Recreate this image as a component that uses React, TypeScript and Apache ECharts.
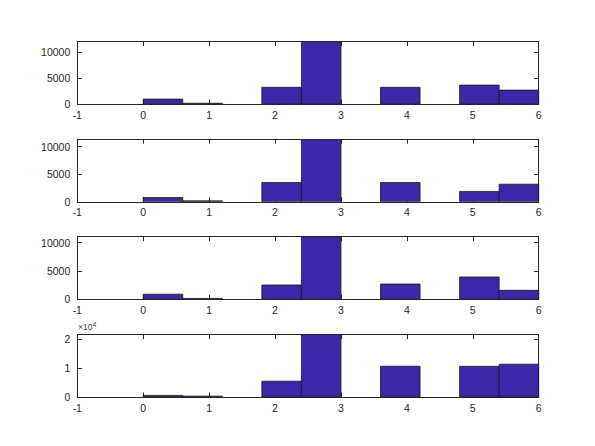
import React, { useEffect, useRef } from "react";
import * as echarts from "echarts";

// Histogram bin edges (shared by all four panels)
const binEdges = [0, 0.6, 1.2, 1.8, 2.4, 3.0, 3.6, 4.2, 4.8, 5.4, 6.0];

// Bin counts per panel
const counts1 = [970, 160, 0, 3250, 12150, 0, 3250, 0, 3680, 2710];
const counts2 = [760, 170, 0, 3490, 11350, 0, 3490, 0, 1880, 3190];
const counts3 = [900, 160, 0, 2530, 11080, 0, 2700, 0, 3940, 1590];
const counts4 = [580, 330, 0, 5520, 21720, 0, 10700, 0, 10660, 11400];

// Tick values
const xTicks = [-1, 0, 1, 2, 3, 4, 5, 6];
const yTicksA = [0, 5000, 10000];
const yTicksB = [0, 10000, 20000];

const panels = [
  { counts: counts1, yTicks: yTicksA, scale: 1 },
  { counts: counts2, yTicks: yTicksA, scale: 1 },
  { counts: counts3, yTicks: yTicksA, scale: 1 },
  { counts: counts4, yTicks: yTicksB, scale: 10000 },
];

const W = 595;
const H = 446;
const GRID_LEFT = 77.3;
const GRID_WIDTH = 461.4;
const GRID_HEIGHT = 62.7;
const GRID_BOTTOMS = [104.1, 201.8, 299.3, 397.1];

const AX = "#262626";
const FONT = "Liberation Sans, Arial, Helvetica, sans-serif";
const BAR = "rgb(62,38,168)";
const TICK_LEN = 4.6;

export default function App() {
  const ref = useRef<HTMLDivElement>(null);

  useEffect(() => {
    if (!ref.current) return;
    const chart = echarts.init(ref.current, undefined, { renderer: "svg" });

    const grids: any[] = [];
    const xAxes: any[] = [];
    const yAxes: any[] = [];
    const series: any[] = [];

    panels.forEach((p, i) => {
      const top = GRID_BOTTOMS[i] - GRID_HEIGHT;
      grids.push({
        left: GRID_LEFT,
        top,
        width: GRID_WIDTH,
        height: GRID_HEIGHT,
        containLabel: false,
      });
      const ymax = Math.max(...p.counts);
      const lineStyle = { color: AX, width: 1 };
      xAxes.push({
        type: "value",
        gridIndex: i,
        position: "bottom",
        min: -1,
        max: 6,
        interval: 1,
        axisLine: { show: true, onZero: false, lineStyle },
        axisTick: {
          show: true,
          inside: true,
          length: TICK_LEN,
          lineStyle,
          customValues: xTicks,
        },
        axisLabel: {
          show: true,
          color: AX,
          fontFamily: FONT,
          fontSize: 10.5,
          margin: 5,
          customValues: xTicks,
        },
        splitLine: { show: false },
      });
      xAxes.push({
        type: "value",
        gridIndex: i,
        position: "top",
        min: -1,
        max: 6,
        interval: 1,
        axisLine: { show: true, onZero: false, lineStyle },
        axisTick: {
          show: true,
          inside: true,
          length: TICK_LEN,
          lineStyle,
          customValues: xTicks,
        },
        axisLabel: { show: false },
        splitLine: { show: false },
      });
      yAxes.push({
        type: "value",
        gridIndex: i,
        position: "left",
        min: 0,
        max: ymax,
        axisLine: { show: true, onZero: false, lineStyle },
        axisTick: {
          show: true,
          inside: true,
          length: TICK_LEN,
          lineStyle,
          customValues: p.yTicks,
        },
        axisLabel: {
          show: true,
          color: AX,
          fontFamily: FONT,
          fontSize: 10.5,
          margin: 7,
          customValues: p.yTicks,
          formatter: (v: number) => String(v / p.scale),
        },
        splitLine: { show: false },
      });
      yAxes.push({
        type: "value",
        gridIndex: i,
        position: "right",
        min: 0,
        max: ymax,
        axisLine: { show: true, onZero: false, lineStyle },
        axisTick: {
          show: true,
          inside: true,
          length: TICK_LEN,
          lineStyle,
          customValues: p.yTicks,
        },
        axisLabel: { show: false },
        splitLine: { show: false },
      });

      const data = p.counts
        .map((c, k) => [binEdges[k], binEdges[k + 1], c])
        .filter((d) => d[2] > 0);

      series.push({
        type: "custom",
        xAxisIndex: i * 2,
        yAxisIndex: i * 2,
        encode: { x: [0, 1], y: 2 },
        clip: true,
        data,
        renderItem: (params: any, api: any) => {
          const x0 = api.value(0);
          const x1 = api.value(1);
          const y = api.value(2);
          const pTop = api.coord([x0, y]);
          const pBot = api.coord([x1, 0]);
          return {
            type: "rect",
            shape: {
              x: pTop[0],
              y: pTop[1],
              width: pBot[0] - pTop[0],
              height: pBot[1] - pTop[1],
            },
            style: { fill: BAR, stroke: "#1a1a1a", lineWidth: 0.8 },
          };
        },
      });
    });

    chart.setOption({
      animation: false,
      backgroundColor: "#ffffff",
      grid: grids,
      xAxis: xAxes,
      yAxis: yAxes,
      series,
      graphic: [
        {
          type: "text",
          x: 78,
          y: 331,
          style: {
            text: "×10",
            fontFamily: FONT,
            fontSize: 8.5,
            fill: "#444444",
            verticalAlign: "bottom",
            align: "left",
          },
        },
        {
          type: "text",
          x: 92.8,
          y: 327.5,
          style: {
            text: "4",
            fontFamily: FONT,
            fontSize: 6.5,
            fill: "#444444",
            verticalAlign: "bottom",
            align: "left",
          },
        },
      ],
    });

    return () => chart.dispose();
  }, []);

  return (
    <div
      ref={ref}
      style={{ position: "fixed", left: 0, top: 0, width: W, height: H, background: "#fff" }}
    />
  );
}
